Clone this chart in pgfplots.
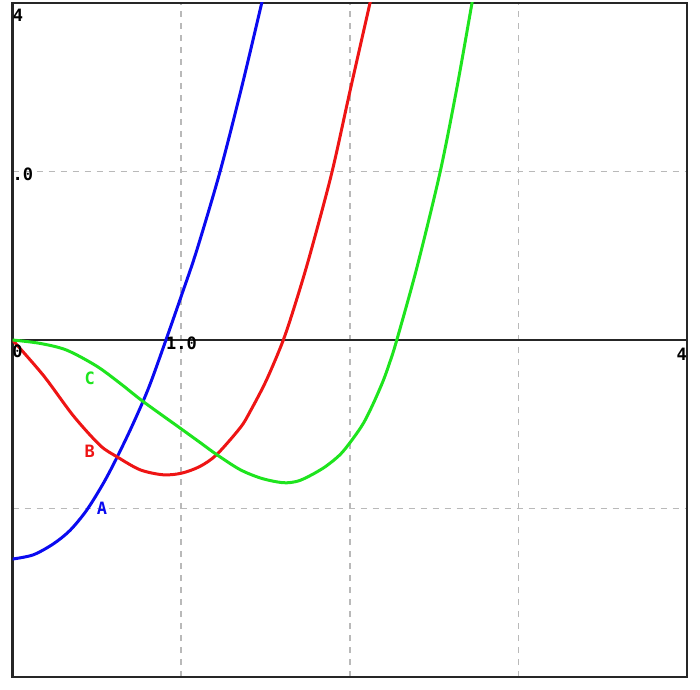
\documentclass[border=0pt]{standalone}
\usepackage{fontspec}
\setmonofont{DejaVu Sans Mono}
\usepackage{pgfplots}
\pgfplotsset{compat=1.18}
\definecolor{cA}{RGB}{10,10,240}
\definecolor{cB}{RGB}{238,20,20}
\definecolor{cC}{RGB}{30,228,30}
\definecolor{gridc}{RGB}{185,185,185}
\newcommand{\lab}{\fontsize{17}{17}\selectfont\ttfamily\bfseries}
\begin{document}
\begin{tikzpicture}[x=1pt,y=1pt]
\useasboundingbox (-12.5,-12) rectangle (687.5,677);
\begin{axis}[
  at={(0,0)}, anchor=south west,
  scale only axis, width=674.5pt, height=674pt,
  xmin=0, xmax=4, ymin=-2, ymax=2,
  xtick={1,2,3}, ytick={-1,1},
  xticklabels={}, yticklabels={},
  major tick length=0pt,
  grid=major,
  grid style={gridc, line width=1.5pt, dash pattern=on 6pt off 6pt},
  extra y ticks={0}, extra y tick labels={},
  extra y tick style={grid=major, major grid style={solid, black!85, line width=1.8pt}},
  axis line style={line width=2.2pt, black!85},
]
\addplot[cA, smooth, line width=3pt] coordinates {
(0,-1.30) (0.123,-1.275) (0.242,-1.21) (0.341,-1.13) (0.44,-1.01)
(0.539,-0.85) (0.618,-0.70) (0.700,-0.53) (0.776,-0.36) (0.826,-0.235)
(0.91,0) (1.004,0.27) (1.092,0.53) (1.231,1.0) (1.359,1.5) (1.478,2.0) (1.49,2.05)
};
\addplot[cB, smooth, line width=3pt] coordinates {
(0,0) (0.183,-0.21) (0.361,-0.45) (0.519,-0.625) (0.618,-0.692)
(0.756,-0.770) (0.894,-0.800) (1.004,-0.790) (1.112,-0.750) (1.211,-0.680)
(1.351,-0.52) (1.409,-0.425) (1.505,-0.24) (1.606,0) (1.685,0.24) (1.765,0.51) (1.893,0.99)
(2.002,1.48) (2.12,2.0) (2.13,2.05)
};
\addplot[cC, smooth, line width=3pt] coordinates {
(0,0) (0.163,-0.02) (0.321,-0.06) (0.499,-0.155) (0.638,-0.257)
(0.776,-0.366) (1.004,-0.53) (1.112,-0.608) (1.211,-0.68) (1.351,-0.77)
(1.48,-0.822) (1.606,-0.847) (1.69,-0.838) (1.765,-0.805) (1.855,-0.752)
(1.943,-0.680) (2.012,-0.595) (2.081,-0.494) (2.14,-0.376) (2.199,-0.240)
(2.24,-0.125) (2.279,0) (2.399,0.433) (2.536,0.997) (2.636,1.50) (2.725,2.0) (2.735,2.05)
};
\node[cA] at (axis cs:0.531,-1.0) {\lab A};
\node[cB] at (axis cs:0.458,-0.659) {\lab B};
\node[cC] at (axis cs:0.458,-0.226) {\lab C};
\node at (axis cs:0.033,1.929) {\lab 4};
\node[anchor=west, inner sep=0pt] at (axis cs:0.0,0.985) {\lab .0};
\node at (axis cs:0.03,-0.068) {\lab 0};
\node at (axis cs:1.002,-0.018) {\lab 1.0};
\node[anchor=east, inner sep=0pt] at (axis cs:4,-0.083) {\lab 4};
\end{axis}
\end{tikzpicture}
\end{document}
